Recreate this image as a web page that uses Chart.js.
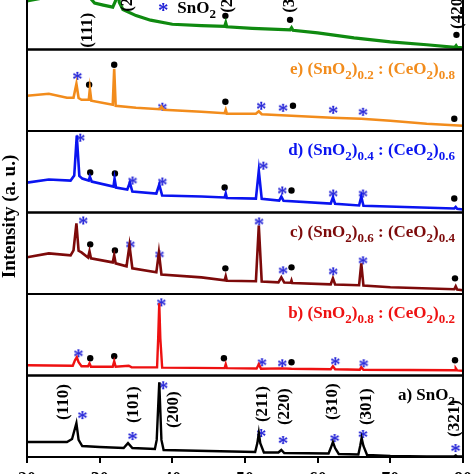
<!DOCTYPE html>
<html>
<head>
<meta charset="utf-8">
<script src="https://cdn.jsdelivr.net/npm/chart.js@4.4.1/dist/chart.umd.min.js"></script>
<style>
  html, body { margin: 0; padding: 0; background: #fff; overflow: hidden; width: 474px; height: 474px; }
  #wrap { position: absolute; left: 0; top: -40px; width: 484px; height: 540px; }
</style>
</head>
<body>
<div id="wrap"><canvas id="xrd" width="484" height="540"></canvas></div>
<script>
// XRD patterns, 2-theta (deg) vs intensity (a.u., 0-100 within each panel)

// a) SnO2
const angleA = [20, 25.5, 26.2, 26.8, 27.1, 27.6, 30, 33.3, 33.9, 34.5, 37.6, 37.85, 38.2, 38.5, 38.8, 45, 51.4, 51.7, 51.9, 52.1, 52.6, 54.6, 55.0, 55.4, 61.5, 61.8, 62.1, 62.4, 62.9, 65.6, 65.85, 66.05, 66.3, 66.8, 70, 75, 78.8, 79.0, 79.2, 80];
const intA = [18.4, 18.4, 22, 41.6, 21, 13.5, 12.2, 11, 17, 11, 9.8, 21, 91.8, 21, 8.6, 7.3, 6.1, 17, 29.4, 17, 5.5, 5.5, 8.6, 4.9, 4.3, 11, 18.4, 11, 3.7, 3.1, 13.5, 23.3, 13.5, 2.4, 1.2, 0.6, 0.8, 2.0, 0.6, 0.6];

// b) (SnO2)0.8 : (CeO2)0.2
const angleB = [20, 26.3, 26.6, 26.85, 27.1, 27.5, 28.4, 28.6, 28.8, 31.8, 32.0, 32.2, 34.0, 34.4, 37.9, 38.05, 38.2, 38.35, 38.6, 47.2, 47.35, 47.5, 51.6, 51.9, 52.2, 55.0, 56.4, 61.8, 62.1, 62.4, 65.8, 66.0, 66.3, 78.9, 79.0, 79.2, 80];
const intB = [12.6, 12, 18.7, 22.4, 16.3, 11.4, 11.4, 15, 10.8, 10.8, 17.5, 10.8, 12, 10, 10, 45, 88.5, 45, 9.6, 9, 13.8, 9, 8.6, 13.8, 8.3, 8.8, 8.2, 7.7, 11.4, 7.7, 7.1, 10, 7.1, 6.5, 8.9, 6.2, 5.9];

// c) (SnO2)0.6 : (CeO2)0.4
const angleC = [20, 23, 26, 26.4, 26.8, 27.1, 27.5, 28.4, 28.6, 28.8, 31.8, 32.0, 32.2, 33.7, 34.1, 34.5, 37.8, 38.15, 38.5, 44, 47.2, 47.35, 47.5, 51.5, 51.9, 52.3, 54.6, 55.0, 55.4, 56.3, 56.4, 56.5, 61.8, 62.1, 62.4, 65.7, 66.0, 66.3, 70, 78.8, 79.0, 79.2, 80];
const intC = [45, 49.8, 47.4, 53.5, 86.6, 53, 51, 44.7, 52.3, 43.7, 38.8, 47.4, 37.6, 34, 59.6, 31.5, 26.6, 51, 24, 20.4, 16.8, 21.7, 16.2, 15.6, 84, 15.4, 14.3, 20.4, 14, 13.8, 16.5, 13.5, 11.9, 19.2, 11.6, 10.7, 37.6, 10.4, 8.2, 5.8, 9.4, 5.5, 4.5];

// d) (SnO2)0.4 : (CeO2)0.6
const angleD = [20, 23, 26, 26.5, 26.85, 27.2, 27.6, 28.5, 28.65, 28.9, 31.9, 32.05, 32.25, 33.8, 34.15, 34.5, 37.8, 38.2, 38.6, 44, 47.2, 47.35, 47.5, 51.5, 51.9, 52.3, 54.7, 55.0, 55.3, 61.8, 62.1, 62.4, 65.7, 66.0, 66.3, 78.8, 79.0, 79.2, 80];
const intD = [36.7, 40.4, 39.2, 45.3, 94.3, 45, 41.6, 39.2, 44, 38, 31.8, 41.6, 30.6, 28.2, 36.7, 25.7, 23.3, 34.3, 20.8, 19.6, 18.4, 23.3, 17.8, 17.1, 51.4, 16.8, 14.7, 19.6, 14.3, 11, 18.4, 10.7, 8.6, 19.6, 8.3, 4.9, 6.7, 4.6, 3.7];

// e) (SnO2)0.2 : (CeO2)0.8
const angleE = [20, 23, 25.5, 26.4, 26.8, 27.1, 27.5, 28.5, 28.65, 28.85, 31.8, 32.0, 32.2, 35, 38.3, 38.5, 38.8, 44, 47.2, 47.35, 47.5, 51.5, 51.9, 52.3, 55.0, 62, 66, 70, 75, 80];
const intE = [43.2, 45.7, 40.8, 40.8, 58, 40.5, 38.3, 38.3, 51.8, 37.1, 32.2, 76.3, 31, 28.5, 26.7, 29.8, 26, 23.6, 21.8, 26, 21.2, 21.2, 24.2, 20.6, 19.3, 16.3, 15, 12.6, 8.9, 6.5];

// f) CeO2
const angleF = [20, 22, 25, 27.8, 28.3, 28.55, 28.8, 29.3, 30.5, 31.8, 32.2, 32.45, 32.7, 33.2, 35, 37, 40, 44, 47.2, 47.35, 47.5, 51, 56.2, 56.4, 56.6, 60, 65, 70, 75, 78.9, 79.05, 79.2, 80];
const intF = [59.6, 63, 66, 63, 70, 100, 62, 57, 54.5, 52, 60, 80, 58, 49, 41.6, 36, 31, 29.4, 28.4, 32.7, 27.8, 26, 24.1, 26.6, 23.5, 20.4, 14.3, 9.4, 5.8, 2.7, 4.5, 2.5, 2.1];

// peak markers [2-theta, intensity]: * SnO2, • CeO2
const starsA = [[27.6, 51.4], [34.5, 25.7], [38.7, 88], [52.2, 29.4], [55.2, 20.8], [62.3, 23.3], [66.2, 28.2], [78.95, 11]];
const starsB = [[27.05, 27.3], [38.45, 89.8], [52.3, 16.3], [55.1, 15], [62.4, 17.5], [66.3, 15]];
const dotsB = [[28.7, 21.2], [32.0, 23.6], [47.1, 21.2], [56.4, 16.3], [78.9, 18.7]];
const starsC = [[27.7, 90.2], [34.2, 60.9], [38.2, 48.6], [51.9, 89], [55.2, 29], [62.1, 27.8], [66.2, 41.3]];
const dotsC = [[28.7, 60.9], [32.1, 53.5], [47.3, 31.5], [56.4, 32.7], [78.9, 19.2]];
const starsD = [[27.3, 91.8], [34.5, 39.2], [38.6, 38], [52.5, 57.5], [55.1, 27], [62.1, 23.3], [66.2, 23.3]];
const dotsD = [[28.7, 49], [32.1, 47.8], [47.2, 30.6], [56.4, 27], [78.8, 17.1]];
const starsE = [[26.9, 67.7], [38.6, 29.8], [52.2, 31], [55.2, 28.5], [62.1, 26], [66.2, 23.6]];
const dotsE = [[28.55, 56.7], [32.0, 81.2], [47.3, 35.9], [56.6, 31], [78.8, 15]];
const dotsF = [[47.3, 41.3], [56.2, 36.4], [79.1, 18]];

// Miller indices [label, 2-theta, intensity where the text starts]
const hklA = [['(110)', 25.1, 45.3], ['(101)', 34.7, 41.6], ['(200)', 40.2, 35.5], ['(211)', 52.4, 42.9], ['(220)', 55.5, 39.2], ['(310)', 62.1, 45.3], ['(301)', 66.7, 39.2], ['(321)', 78.8, 24.5]];
const hklF = [['(111)', 28.4, 2.1], ['(200)', 33.9, 46.2], ['(220)', 47.6, 45], ['(311)', 56.2, 45], ['(420)', 79.2, 25.3]];

const tickAngles = [20, 30, 40, 50, 60, 70, 80];

const SERIF = '"Liberation Serif", "Times New Roman", serif';
const STAR_BLUE = '#1f1fd6';

// panel titles: [text, isSubscript]
const panels = [
  { id: 'yA', color: '#000000', angle: angleA, val: intA, stars: starsA, dots: [], width: 2.4,
    title: [['a) SnO', 0], ['2', 1]] },
  { id: 'yB', color: '#ee1111', angle: angleB, val: intB, stars: starsB, dots: dotsB, width: 2.4,
    title: [['b) (SnO', 0], ['2', 1], [')', 0], ['0.8', 1], [' : (CeO', 0], ['2', 1], [')', 0], ['0.2', 1]] },
  { id: 'yC', color: '#7d0a0a', angle: angleC, val: intC, stars: starsC, dots: dotsC, width: 2.6,
    title: [['c) (SnO', 0], ['2', 1], [')', 0], ['0.6', 1], [' : (CeO', 0], ['2', 1], [')', 0], ['0.4', 1]] },
  { id: 'yD', color: '#0a14f0', angle: angleD, val: intD, stars: starsD, dots: dotsD, width: 2.6,
    title: [['d) (SnO', 0], ['2', 1], [')', 0], ['0.4', 1], [' : (CeO', 0], ['2', 1], [')', 0], ['0.6', 1]] },
  { id: 'yE', color: '#f28c1c', angle: angleE, val: intE, stars: starsE, dots: dotsE, width: 2.6,
    title: [['e) (SnO', 0], ['2', 1], [')', 0], ['0.2', 1], [' : (CeO', 0], ['2', 1], [')', 0], ['0.8', 1]] },
  { id: 'yF', color: '#0f8a10', angle: angleF, val: intF, stars: [], dots: dotsF, width: 3.2,
    title: null }
];

// asterisk marker drawn as an image
function makeStar() {
  const c = document.createElement('canvas');
  c.width = 14; c.height = 14;
  const g = c.getContext('2d');
  g.fillStyle = STAR_BLUE;
  g.font = 'bold 21px ' + SERIF;
  const m = g.measureText('*');
  const w = m.actualBoundingBoxRight + m.actualBoundingBoxLeft;
  const h = m.actualBoundingBoxAscent + m.actualBoundingBoxDescent;
  g.fillText('*', 7 - w / 2 + m.actualBoundingBoxLeft, 7 - h / 2 + m.actualBoundingBoxAscent);
  return c;
}
const starImg = makeStar();

const toXY = (xs, ys) => xs.map((x, i) => ({ x: x, y: ys[i] }));
const toPts = arr => arr.map(p => ({ x: p[0], y: p[1] }));

const datasets = [];
panels.forEach(p => {
  datasets.push({
    data: toXY(p.angle, p.val), yAxisID: p.id,
    borderColor: p.color, borderWidth: p.width, pointRadius: 0, tension: 0
  });
  if (p.stars.length) datasets.push({
    data: toPts(p.stars), yAxisID: p.id, showLine: false, clip: false,
    pointStyle: starImg, pointRadius: 7
  });
  if (p.dots.length) datasets.push({
    data: toPts(p.dots), yAxisID: p.id, showLine: false, clip: false,
    pointStyle: 'circle', pointRadius: 3.2, pointBorderWidth: 0,
    pointBackgroundColor: '#000', borderColor: '#000'
  });
});

const scales = {
  x: {
    type: 'linear', min: 20, max: 80,
    afterBuildTicks: s => { s.ticks = tickAngles.map(v => ({ value: v })); },
    afterFit: s => { s.height = 43; },
    ticks: { color: '#000', padding: 7, maxRotation: 0, minRotation: 0, font: { family: SERIF, size: 18, weight: 'bold' } },
    grid: { drawOnChartArea: false, drawTicks: true, tickLength: 6, color: '#000', lineWidth: 2 },
    border: { display: true, color: '#000', width: 2 }
  }
};
panels.forEach(p => {
  scales[p.id] = {
    type: 'linear', position: 'left', stack: 'xrd', stackWeight: 1, offset: false,
    min: 0, max: 100,
    afterFit: s => { s.width = 27; },
    ticks: { display: false },
    grid: { display: false },
    border: { display: false }
  };
});

function drawTitle(ctx, parts, color, right, baseline) {
  const big = 'bold 17px ' + SERIF, small = 'bold 13px ' + SERIF;
  let total = 0;
  parts.forEach(([t, sub]) => { ctx.font = sub ? small : big; total += ctx.measureText(t).width; });
  let x = right - total;
  ctx.fillStyle = color;
  ctx.textAlign = 'left';
  ctx.textBaseline = 'alphabetic';
  parts.forEach(([t, sub]) => {
    ctx.font = sub ? small : big;
    ctx.fillText(t, x, baseline + (sub ? 5 : 0));
    x += ctx.measureText(t).width;
  });
}

const panelDecor = {
  id: 'panelDecor',
  afterDatasetsDraw(chart) {
    const { ctx, chartArea, scales } = chart;
    const xs = scales.x;
    ctx.save();
    // panel frames
    ctx.strokeStyle = '#000';
    ctx.lineWidth = 2;
    panels.forEach(p => {
      const s = scales[p.id];
      ctx.strokeRect(chartArea.left, s.top, chartArea.right - chartArea.left, s.bottom - s.top);
    });
    // Miller indices, rotated
    ctx.fillStyle = '#000';
    ctx.font = 'bold 17px ' + SERIF;
    ctx.textAlign = 'left';
    ctx.textBaseline = 'middle';
    [[hklA, 'yA'], [hklF, 'yF']].forEach(([list, id]) => {
      list.forEach(([t, a, v]) => {
        ctx.save();
        ctx.translate(xs.getPixelForValue(a), scales[id].getPixelForValue(v));
        ctx.rotate(-Math.PI / 2);
        ctx.fillText(t, 0, 0);
        ctx.restore();
      });
    });
    // panel titles
    panels.forEach(p => {
      if (p.title) drawTitle(ctx, p.title, p.color, chartArea.right - 8, scales[p.id].top + 24);
    });
    // legend for SnO2 marker
    const lx = chartArea.left + 143, ly = scales.yF.top + 45;
    ctx.drawImage(starImg, lx - 14, ly - 13);
    drawTitle(ctx, [['SnO', 0], ['2', 1]], '#000', lx + 46, ly);
    // y axis title
    ctx.save();
    ctx.translate(10, scales.yC.top + 4);
    ctx.rotate(-Math.PI / 2);
    ctx.textAlign = 'center';
    ctx.textBaseline = 'middle';
    ctx.font = 'bold 19px ' + SERIF;
    ctx.fillStyle = '#000';
    ctx.fillText('Intensity (a. u.)', 0, 0);
    ctx.restore();
    ctx.restore();
  }
};

new Chart(document.getElementById('xrd').getContext('2d'), {
  type: 'line',
  data: { datasets: datasets },
  options: {
    responsive: false,
    animation: false,
    layout: { padding: { top: 7, right: 21, left: 0, bottom: 0 } },
    plugins: { legend: { display: false }, tooltip: { enabled: false } },
    scales: scales
  },
  plugins: [panelDecor]
});
</script>
</body>
</html>
